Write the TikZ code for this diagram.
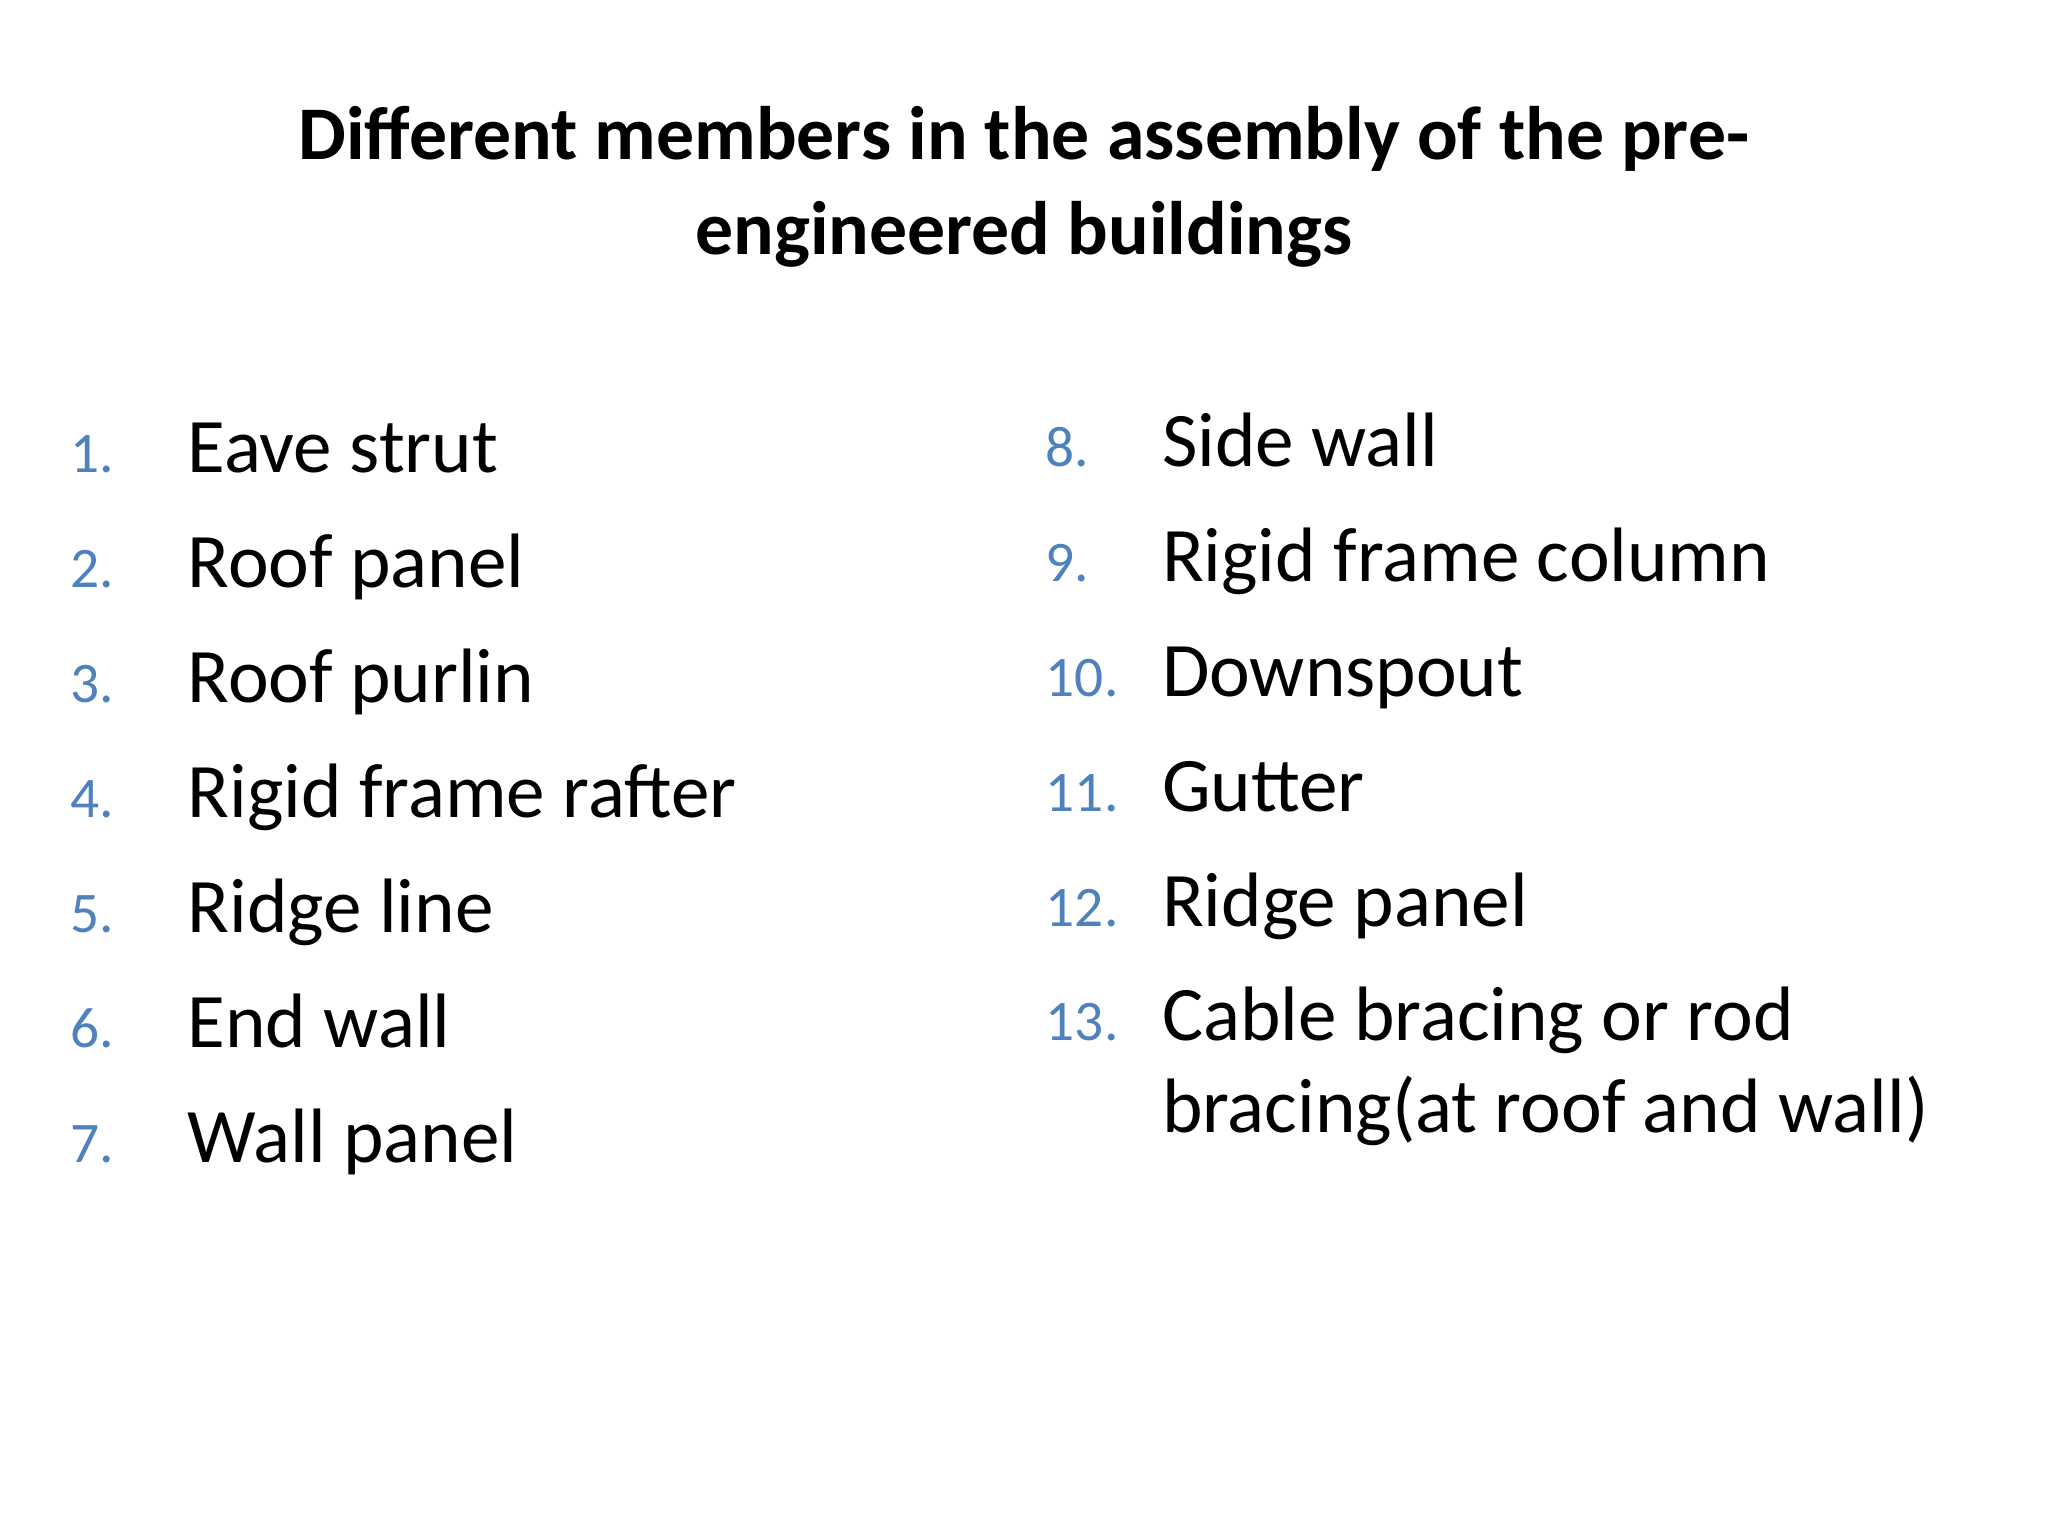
\documentclass[tikz,border=0pt]{standalone}
\usepackage{fontspec}
\setmainfont{Carlito}
\definecolor{numblue}{RGB}{79,129,189}
\begin{document}
\begin{tikzpicture}[x=0.01cm,y=-0.01cm,
  num/.style={anchor=base west,inner sep=0,text=numblue,font=\fontsize{12.5}{15}\selectfont},
  item/.style={anchor=base west,inner sep=0,font=\fontsize{16.8}{20}\selectfont},
  ttl/.style={anchor=base,inner sep=0,font=\bfseries\fontsize{16.5}{20}\selectfont}]
\useasboundingbox (0,0) rectangle (1568,1176);
\node[ttl] (t1) at (784,122) {Different members in the assembly of the pre-};
\node[ttl] (t2) at (784,195) {engineered buildings};
\foreach \n/\t [count=\i from 0] in {1/Eave strut,2/Roof panel,3/Roof purlin,4/Rigid frame rafter,5/Ridge line,6/End wall,7/Wall panel}{
  \node[num] (ln\n) at (53,{362+88*\i}) {\n.};
  \node[item] (lt\n) at (143,{362+88*\i}) {\t};
}
\foreach \n/\t [count=\i from 0] in {8/Side wall,9/Rigid frame column,10/Downspout,11/Gutter,12/Ridge panel,13/Cable bracing or rod}{
  \node[num] (rn\n) at (800,{357+88*\i}) {\n.};
  \node[item] (rt\n) at (889,{357+88*\i}) {\t};
}
\node[item] (rt13b) at (889,867) {bracing(at roof and wall)};
\end{tikzpicture}
\end{document}
